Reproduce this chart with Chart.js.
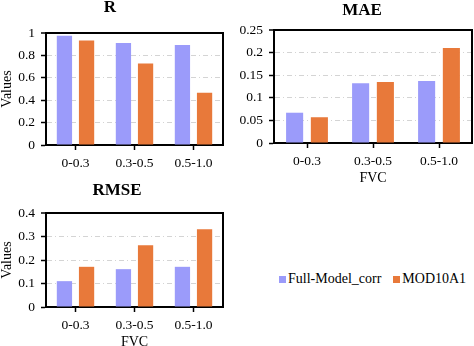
<!DOCTYPE html>
<html>
<head>
<meta charset="utf-8">
<script src="https://cdn.jsdelivr.net/npm/chart.js@4/dist/chart.umd.min.js"></script>
<style>
  body { margin: 0; background: #fff; width: 474px; height: 346px; overflow: hidden; position: relative; }
  .box { position: absolute; }
  #legend { position: absolute; left: 279px; top: 271px; display: flex; align-items: center; white-space: nowrap;
    font-family: 'Liberation Serif', 'Times New Roman', serif; font-size: 14px; color: #000; }
  .item { display: flex; align-items: center; margin-right: 12px; }
  .swatch { width: 7px; height: 7px; margin-right: 2px; }
</style>
</head>
<body>
<canvas class="box" id="chart_r" width="232" height="185" style="left:0;top:0"></canvas>
<canvas class="box" id="chart_mae" width="238" height="190" style="left:236px;top:0"></canvas>
<canvas class="box" id="chart_rmse" width="232" height="180" style="left:0;top:175px"></canvas>
<div id="legend"></div>

<script>
// data
const categories = ['0-0.3', '0.3-0.5', '0.5-1.0']
const series_names = ['Full-Model_corr', 'MOD10A1']
const series_colors = ['#9b9bfa', '#e8793a']

const r_full = [0.975, 0.910, 0.893]
const r_mod = [0.934, 0.728, 0.466]
const mae_full = [0.067, 0.132, 0.137]
const mae_mod = [0.057, 0.135, 0.210]
const rmse_full = [0.110, 0.161, 0.171]
const rmse_mod = [0.171, 0.263, 0.331]

const r_axis = [0, 1, 0.2]
const mae_axis = [0, 0.25, 0.05]
const rmse_axis = [0, 0.4, 0.1]

const SERIF = "'Liberation Serif', 'Times New Roman', serif"
Chart.defaults.font.family = SERIF
Chart.defaults.color = '#000'

// the titles in the figure are not centred on the panel, nudge them
const shift_title = {
  id: 'shift_title',
  afterLayout(chart) {
    const dx = chart.options.plugins.shift_title.dx
    chart.titleBlock.left += dx
    chart.titleBlock.right += dx
  }
}

function create_bar_chart(elem_id, title, full, mod, axis, lay) {
  const ctx = document.getElementById(elem_id)
  const y_max = axis[1]
  const is_top = v => Math.abs(v - y_max) < 1e-9
  const datasets = [full, mod].map((d, i) => ({
    label: series_names[i],
    data: d,
    backgroundColor: series_colors[i],
    borderWidth: 0,
    categoryPercentage: 0.75,
    barPercentage: 0.69
  }))

  return new Chart(ctx, {
    type: 'bar',
    data: { labels: categories, datasets: datasets },
    plugins: [shift_title],
    options: {
      responsive: false,
      animation: false,
      layout: { padding: lay.padding },
      plugins: {
        legend: { display: false },
        tooltip: { enabled: false },
        shift_title: { dx: lay.title_dx },
        title: {
          display: true,
          text: title,
          font: { family: SERIF, size: 17, weight: 'bold' },
          color: '#000',
          padding: lay.title_pad
        }
      },
      scales: {
        x: {
          grid: { offset: false, drawOnChartArea: false, tickLength: 5, tickColor: '#000', tickWidth: 1.5 },
          border: { color: '#000', width: 2 },
          ticks: { font: { family: SERIF, size: 13.5 }, padding: 5, maxRotation: 0 },
          title: { display: lay.x_title, text: 'FVC', font: { family: SERIF, size: 14 }, padding: { top: 0, bottom: lay.x_title_pad } },
          afterFit: s => { s.height = lay.x_height }
        },
        y: {
          min: axis[0],
          max: y_max,
          ticks: {
            stepSize: axis[2],
            font: { family: SERIF, size: 13.5 },
            padding: 6,
            callback: v => String(+v.toFixed(2))
          },
          grid: {
            tickLength: 5,
            tickColor: '#000',
            tickWidth: 1.5,
            color: c => {
              if (c.tick.value === 0) return 'rgba(0,0,0,0)'
              if (is_top(c.tick.value)) return '#000'
              return '#d4d4d4'
            },
            lineWidth: c => (is_top(c.tick.value) ? 2 : 1)
          },
          border: {
            color: '#000',
            width: 2,
            dash: c => (c.tick && is_top(c.tick.value) ? [] : [5, 3, 1, 3])
          },
          title: { display: lay.y_title, text: 'Values', font: { family: SERIF, size: 14 }, padding: { top: -1, bottom: 0 } },
          afterFit: s => { s.width = lay.y_width }
        },
        y_right: {
          type: 'linear',
          position: 'right',
          grid: { display: false },
          ticks: { display: false },
          border: { display: true, color: '#000', width: 2 },
          afterFit: s => { s.width = 0 }
        }
      }
    }
  })
}

const chart_r = create_bar_chart('chart_r', 'R', r_full, r_mod, r_axis, {
  padding: { left: 0, right: 9, top: 0, bottom: 0 },
  title_pad: { top: -3, bottom: 15.6 }, title_dx: -1.5,
  y_width: 46, y_title: true,
  x_height: 40, x_title: false, x_title_pad: 0
})

create_bar_chart('chart_mae', 'MAE', mae_full, mae_mod, mae_axis, {
  padding: { left: 0, right: 2, top: 0, bottom: 0 },
  title_pad: { top: 0, bottom: 9.6 }, title_dx: 8,
  y_width: 38, y_title: false,
  x_height: 47, x_title: true, x_title_pad: 3.6
})

create_bar_chart('chart_rmse', 'RMSE', rmse_full, rmse_mod, rmse_axis, {
  padding: { left: 0, right: 9, top: 0, bottom: 0 },
  title_pad: { top: 5, bottom: 12.6 }, title_dx: 5.5,
  y_width: 46, y_title: true,
  x_height: 48, x_title: true, x_title_pad: 4.6
})

// legend built from the chart's datasets
const legend_div = document.getElementById('legend')
chart_r.data.datasets.forEach(d => {
  const item = document.createElement('div')
  item.className = 'item'
  const sw = document.createElement('span')
  sw.className = 'swatch'
  sw.style.background = d.backgroundColor
  const txt = document.createElement('span')
  txt.textContent = d.label
  item.appendChild(sw)
  item.appendChild(txt)
  legend_div.appendChild(item)
})
</script>
</body>
</html>
